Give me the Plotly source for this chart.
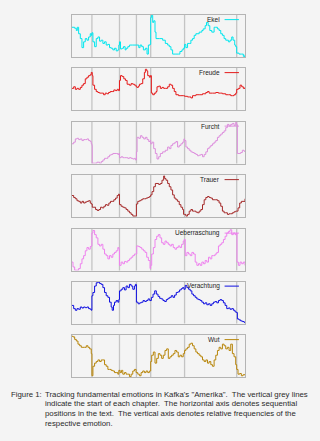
import plotly.graph_objects as go

# Chapter starts (sequential text position)
chapter_starts = [60, 143, 194, 237, 339, 496]
text_length = 521

ekel_pos = [0,8,13,16,20,25,30,35,40,45,50,55,58,60,63,68,73,78,83,88,93,98,103,108,113,118,123,128,133,138,141,143,146,151,155,160,163,168,173,183,193,201,205,210,215,221,226,230,235,237,239,243,246,250,253,263,273,281,288,293,298,303,313,320,325,331,335,339,343,348,353,358,363,368,373,383,391,395,401,405,410,415,421,428,433,438,443,448,453,458,463,471,476,481,485,490,493,496,503,511,516,521]
ekel_val = [91,88,81,91,71,56,28,46,56,51,61,71,66,74,46,31,56,61,48,51,41,46,36,38,28,26,21,26,18,21,36,46,24,26,31,21,26,31,36,36,36,28,36,31,21,26,8,36,38,121,128,106,111,76,56,56,51,41,36,31,21,8,8,8,16,21,26,38,28,41,41,51,56,66,71,76,81,86,96,106,96,81,76,91,91,86,81,71,66,56,51,46,51,61,51,36,31,11,8,8,1,6]

freude_pos = [0,5,10,15,20,25,30,35,40,45,50,55,58,61,63,68,73,78,83,90,95,100,105,110,115,121,126,131,136,140,143,146,151,156,161,166,173,178,183,188,193,196,200,203,208,213,218,221,225,228,233,236,239,243,248,253,256,261,266,271,276,281,288,293,298,303,308,313,321,328,335,339,343,348,353,358,363,373,383,393,403,408,413,423,433,441,448,453,463,471,478,483,488,493,496,501,506,511,516,521]
freude_val = [67,72,64,67,64,70,77,82,97,102,107,110,117,107,77,64,57,54,52,52,47,52,50,54,57,57,62,60,64,60,92,107,104,97,92,80,77,82,80,77,72,70,74,80,82,97,117,127,122,107,102,107,52,47,52,57,72,74,67,70,67,67,72,80,77,67,57,47,44,44,44,42,42,40,40,37,44,47,47,50,54,57,52,52,54,52,52,50,47,47,44,44,47,52,64,67,77,72,67,70]

furcht_pos = [0,5,10,15,20,25,30,35,40,45,50,55,58,60,61,68,75,83,88,93,98,103,108,113,118,123,133,138,141,143,148,153,158,163,168,173,178,183,188,191,194,196,201,206,211,216,221,226,231,235,237,241,246,251,256,261,266,273,281,288,293,298,303,308,313,318,323,328,333,337,339,343,348,353,358,363,368,373,378,383,388,393,398,403,408,413,418,423,428,433,438,443,448,453,458,463,468,473,478,483,488,493,496,498,503,508,513,518,521]
furcht_val = [60,65,75,77,73,75,70,73,73,75,70,67,60,55,0,0,3,0,5,10,15,15,20,25,27,30,30,27,30,17,20,17,17,17,15,17,15,13,15,10,35,80,77,85,80,75,80,73,67,70,60,65,45,30,13,20,30,35,40,50,45,55,60,63,67,50,55,60,65,75,70,50,45,40,35,33,30,27,23,25,27,20,27,35,45,50,55,60,65,70,80,85,90,95,100,110,120,115,120,123,117,127,120,30,30,33,40,37,35]

trauer_pos = [0,5,10,15,20,25,30,35,40,45,50,55,58,61,66,71,76,81,86,91,96,101,106,111,116,121,126,131,136,140,143,148,153,158,163,168,173,178,183,191,194,198,203,208,213,218,223,228,233,237,241,246,251,256,261,266,271,276,279,283,288,293,298,303,308,313,318,323,328,333,336,339,343,348,353,358,363,368,373,378,383,388,393,398,403,408,413,418,423,428,433,438,443,448,453,458,463,468,473,478,483,488,493,496,500,505,510,515,521]
trauer_val = [65,59,55,49,47,42,47,42,45,47,49,42,39,29,29,22,19,22,29,27,32,37,35,42,47,47,52,57,65,69,37,32,29,27,22,17,12,7,2,2,39,47,49,52,55,55,57,59,62,67,77,92,102,102,99,102,112,125,117,112,102,92,82,67,57,52,47,37,29,22,7,7,2,7,17,22,17,17,14,12,17,22,37,52,59,62,59,57,52,52,52,49,42,32,17,12,12,7,9,9,12,15,17,17,27,42,47,47,55]

ueber_pos = [0,3,8,15,20,25,30,35,40,45,50,55,58,60,63,68,73,78,83,88,93,98,103,108,113,118,123,128,133,138,141,143,148,153,158,163,168,173,178,183,188,191,195,200,205,210,215,220,225,230,235,237,240,245,250,255,260,265,270,275,280,285,290,295,300,305,310,315,320,325,330,335,338,341,346,351,356,361,366,371,376,381,386,391,396,401,406,411,416,421,426,431,436,441,446,451,456,461,466,471,476,481,486,491,495,497,501,506,511,516,521]
ueber_val = [25,10,0,0,5,20,35,45,60,70,65,73,75,115,123,110,100,80,75,80,65,50,45,35,45,40,50,55,60,70,65,15,25,20,27,25,30,35,40,45,50,50,75,73,70,65,60,55,40,30,5,15,50,70,95,105,110,100,85,80,90,85,80,75,80,70,65,70,75,70,80,90,95,45,55,50,45,55,50,25,15,20,15,25,20,30,25,40,35,45,45,50,55,75,80,85,95,105,115,120,125,110,115,110,115,25,15,25,20,25,15]

verach_pos = [0,5,10,15,20,25,30,35,40,45,50,55,58,60,63,68,73,78,83,88,93,98,103,108,113,118,121,125,128,133,138,141,143,148,153,158,163,168,173,178,183,188,191,194,199,204,209,214,219,224,229,234,239,244,249,254,259,264,269,274,279,284,289,294,299,304,309,314,319,324,329,333,337,341,346,351,356,361,366,371,376,381,386,391,396,401,406,411,416,421,426,431,436,441,446,451,456,461,466,471,476,481,486,491,495,498,503,508,513,518,521]
verach_val = [55,45,40,45,43,50,47,50,48,50,45,43,40,85,95,115,125,127,123,120,110,95,85,80,65,50,40,55,65,70,65,73,100,105,110,103,115,110,120,115,105,115,120,65,60,63,65,70,67,70,75,70,80,90,100,90,83,77,75,70,67,73,77,80,85,80,87,95,97,103,107,110,105,117,110,105,100,90,85,80,75,73,70,65,60,63,57,60,55,60,65,67,63,70,73,70,63,55,45,47,43,45,40,35,33,13,10,7,5,3,0]

wut_pos = [0,3,8,13,18,23,28,33,38,43,48,53,58,60,63,68,73,78,83,88,93,98,103,108,113,118,123,128,133,138,141,145,149,153,158,163,168,173,178,183,188,193,198,203,208,213,218,223,228,233,237,240,245,250,255,260,265,270,275,280,285,290,295,300,305,310,315,320,325,330,335,339,343,348,353,358,363,368,373,378,383,388,393,398,403,408,413,418,423,428,433,438,443,448,453,458,463,468,473,478,483,488,493,496,500,505,510,515,521]
wut_val = [128,126,118,113,103,98,93,93,93,98,93,88,73,3,33,43,48,53,48,53,53,38,33,23,23,20,18,13,13,8,20,13,20,8,13,8,8,0,8,18,23,13,8,3,13,18,13,18,13,18,48,68,78,43,58,73,68,58,68,83,88,58,63,68,73,83,78,63,68,63,73,83,88,93,103,106,98,88,78,73,68,63,53,48,53,43,48,38,33,53,68,83,93,88,103,98,88,93,83,103,73,63,38,23,8,10,3,6,8]

series = [
    ("Ekel", ekel_pos, ekel_val, "#00e6ee", 128),
    ("Freude", freude_pos, freude_val, "#e41a1a", 130),
    ("Furcht", furcht_pos, furcht_val, "#dd8fdd", 128),
    ("Trauer", trauer_pos, trauer_val, "#a52a2a", 127),
    ("Ueberraschung", ueber_pos, ueber_val, "#ee82ee", 128),
    ("Verachtung", verach_pos, verach_val, "#1010e0", 128),
    ("Wut", wut_pos, wut_val, "#b8860b", 131),
]

W, H = 320, 441
x0, x1 = 72, 245
tops = [15, 68, 121.5, 175, 228.5, 281.5, 335]
ph = 42

fig = go.Figure()
for i, (name, pos, val, col, top) in enumerate(series):
    n = i + 1
    xa = "x" if n == 1 else f"x{n}"
    ya = "y" if n == 1 else f"y{n}"
    fig.add_trace(go.Scatter(x=pos, y=val, mode="lines", line=dict(color=col, width=1, shape="hv"),
                             xaxis=xa, yaxis=ya, showlegend=False, hoverinfo="skip"))
    t = tops[i]
    ydom = [1 - (t + ph) / H, 1 - t / H]
    axstyle = dict(showticklabels=False, ticks="", showgrid=False, zeroline=False,
                   showline=True, mirror=True, linecolor="#b4b4b4", linewidth=1)
    fig.layout[f"xaxis{'' if n == 1 else n}"] = dict(domain=[x0 / W, x1 / W], range=[0, text_length],
                                                      anchor=ya, **axstyle)
    fig.layout[f"yaxis{'' if n == 1 else n}"] = dict(domain=ydom, range=[-1, top + 1], anchor=xa, **axstyle)
    for c in chapter_starts:
        fig.add_shape(type="line", xref=xa, yref=f"{ya} domain", x0=c, x1=c, y0=0, y1=1,
                      line=dict(color="#c4c4c4", width=1.3), layer="below")
    # legend key (text then sample line)
    fig.add_annotation(xref=f"{xa} domain", yref=f"{ya} domain", x=0.868, y=0.89, text=name,
                       showarrow=False, xanchor="right", yanchor="middle",
                       font=dict(family="Liberation Sans, Arial", size=6.5, color="#222"))
    fig.add_shape(type="line", xref=f"{xa} domain", yref=f"{ya} domain", x0=0.882, x1=0.965,
                  y0=0.89, y1=0.89, line=dict(color=col, width=1))

caption_lines = [
    "Tracking fundamental emotions in Kafka's \"Amerika\".  The vertical grey lines",
    "indicate the start of each chapter.  The horizontal axis denotes sequential",
    "positions in the text.  The vertical axis denotes relative frequencies of the",
    "respective emotion.",
]
cap_font = dict(family="Liberation Sans, Arial", size=7.8, color="#2a2a2a")
fig.add_annotation(xref="paper", yref="paper", x=9 / W, y=1 - 394 / H, text="Figure 1:",
                   showarrow=False, xanchor="left", yanchor="middle", font=cap_font)
for k, line in enumerate(caption_lines):
    fig.add_annotation(xref="paper", yref="paper", x=43 / W, y=1 - (394 + 9.7 * k) / H, text=line,
                       showarrow=False, xanchor="left", yanchor="middle", font=cap_font)

fig.update_layout(width=W, height=H, margin=dict(l=0, r=0, t=0, b=0),
                  paper_bgcolor="#f4f4f4", plot_bgcolor="#f4f4f4")
fig.write_html("out.html")
